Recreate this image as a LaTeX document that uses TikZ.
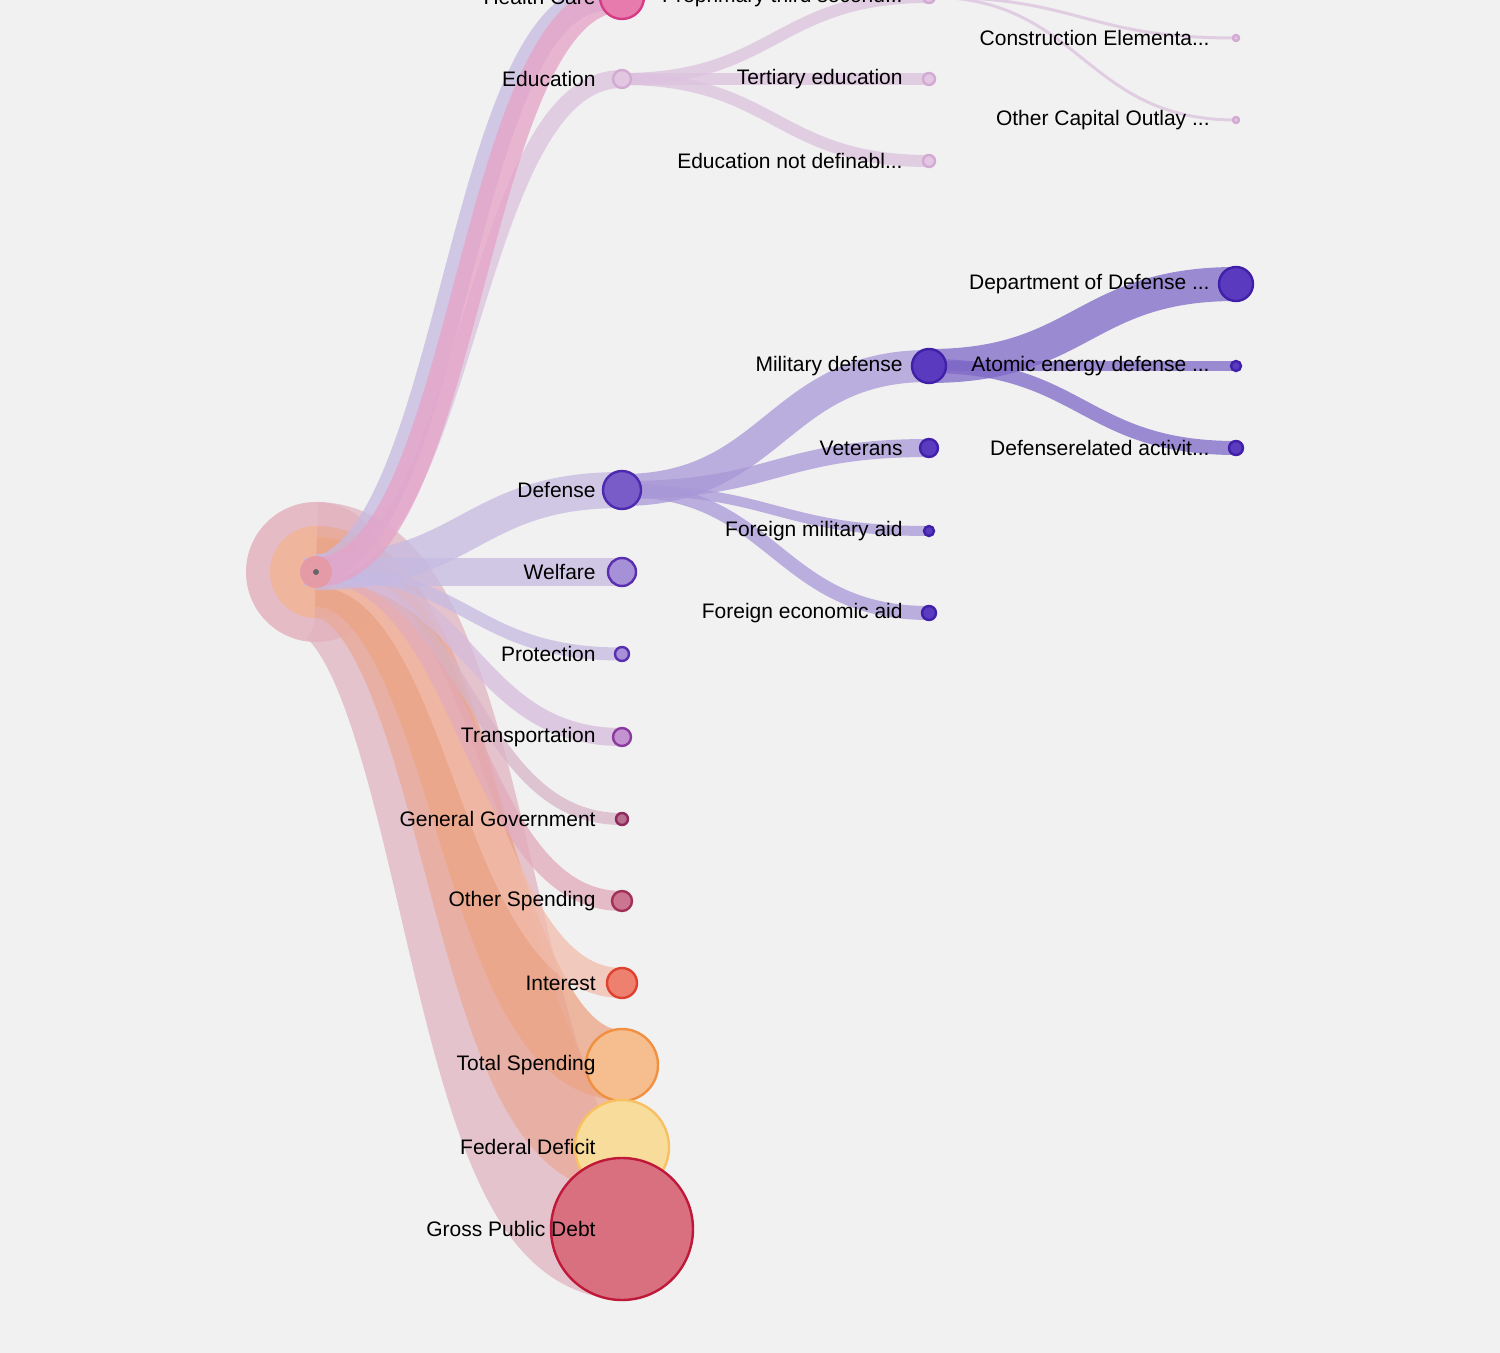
\documentclass[tikz,border=0pt]{standalone}
\usepackage{fontspec}
\setmainfont{Liberation Sans}
\usetikzlibrary{positioning}

\definecolor{bgc}{HTML}{F1F1F1}
\definecolor{hcL}{HTML}{E6A2C6}\definecolor{hcF}{HTML}{E87BAE}\definecolor{hcD}{HTML}{D63C86}
\definecolor{edL}{HTML}{DCC2DE}\definecolor{edF}{HTML}{E2C6E2}\definecolor{edD}{HTML}{D2AAD2}
\definecolor{dfL}{HTML}{C6BAE2}\definecolor{dfF}{HTML}{7A5CC8}\definecolor{dfD}{HTML}{4B2AAF}
\definecolor{wfF}{HTML}{A690D8}\definecolor{wfD}{HTML}{5A2EB0}
\definecolor{trL}{HTML}{D6BCDC}\definecolor{trF}{HTML}{C392D0}\definecolor{trD}{HTML}{8A3A9E}
\definecolor{ggL}{HTML}{D8B4C6}\definecolor{ggF}{HTML}{B8708F}\definecolor{ggD}{HTML}{8E2A5E}
\definecolor{osL}{HTML}{E2AABA}\definecolor{osF}{HTML}{CC7590}\definecolor{osD}{HTML}{A0305A}
\definecolor{inL}{HTML}{F2BCAC}\definecolor{inF}{HTML}{EE8070}\definecolor{inD}{HTML}{E04030}
\definecolor{tsL}{HTML}{ECA484}\definecolor{tsF}{HTML}{F6BE8E}\definecolor{tsD}{HTML}{F09040}
\definecolor{fdL}{HTML}{EAAA98}\definecolor{fdF}{HTML}{F8DC9C}\definecolor{fdD}{HTML}{F8C060}
\definecolor{gdL}{HTML}{E2B4C0}\definecolor{gdF}{HTML}{D87080}\definecolor{gdD}{HTML}{C01838}
\definecolor{mdL}{HTML}{A898D8}\definecolor{mdF}{HTML}{5A3ABE}\definecolor{mdD}{HTML}{4020A8}
\definecolor{ddL}{HTML}{7E68C8}

% a link between two nodes: from, to, width (px), colour
\newcommand{\lnk}[4]{\draw[link,line width=#3*0.5pt,draw=#4] (#1) .. controls +(153,0) and +(-153,0) .. (#2);}
% a node of the tree: name, x, y, radius, fill, draw, label
\newcommand{\leaf}[7]{%
  \coordinate (#1) at (#2,#3);
  \fill[#5,draw=#6,line width=1.2pt] (#1) circle[radius=#4];
  \node[lbl] at ([xshift=-13pt]#1) {#7};}

\begin{document}
\begin{tikzpicture}[x=0.5pt,y=-0.5pt,
    link/.style={opacity=0.75,line cap=butt},
    lbl/.style={anchor=east,inner sep=0pt,font=\fontsize{10.5}{12}\selectfont,text=black}]
  \fill[bgc] (0,0) rectangle (1500,1353);
  \useasboundingbox (0,0) rectangle (1500,1353);

  % root
  \fill[gdL!90] (316,572) circle[radius=70];
  \fill[tsL!80] (316,572) circle[radius=46];
  \coordinate (root) at (316,572);

  % level 1, 2 and 3 positions
  \foreach \n/\y in {hc/-3,ed/79,df/490,wf/572,pr/654,tr/737,gg/819,os/901,in/983,ts/1065,fd/1147,gd/1229}
    \coordinate (\n) at (622,\y);
  \foreach \n/\y in {pp/-3,te/79,en/161,md/366,ve/448,fm/531,fe/613}
    \coordinate (\n) at (929,\y);
  \foreach \n/\y in {ce/38,oc/120,dd/284,ae/366,dr/448}
    \coordinate (\n) at (1236,\y);

  % links
  \lnk{root}{gd}{140}{gdL}
  \lnk{root}{fd}{92}{fdL}
  \lnk{root}{ts}{70}{tsL}
  \lnk{root}{in}{30}{inL}
  \lnk{root}{os}{20}{osL}
  \lnk{root}{gg}{12}{ggL}
  \lnk{root}{tr}{18}{trL}
  \lnk{root}{pr}{13}{dfL}
  \lnk{root}{wf}{28}{dfL}
  \lnk{root}{df}{36}{dfL}
  \lnk{root}{ed}{18}{edL}
  \draw[link,line width=14pt,draw=dfL] ([xshift=-6pt]root) .. controls +(150,0) and +(-150,0) .. ([xshift=-8pt]hc);
  \lnk{root}{hc}{30}{hcL}
  \lnk{ed}{pp}{12}{edL}
  \lnk{ed}{te}{12}{edL}
  \lnk{ed}{en}{12}{edL}
  \lnk{pp}{ce}{3}{edL}
  \lnk{pp}{oc}{3}{edL}
  \lnk{df}{md}{32}{mdL}
  \lnk{df}{ve}{18}{mdL}
  \lnk{df}{fm}{10}{mdL}
  \lnk{df}{fe}{14}{mdL}
  \lnk{md}{dd}{34}{ddL}
  \lnk{md}{ae}{10}{ddL}
  \lnk{md}{dr}{14}{ddL}

  \fill[gdF!70] (316,572) circle[radius=16];
  \fill[black!60] (316,572) circle[radius=3];

  % nodes
  \leaf{hc}{622}{-3}{22}{hcF}{hcD}{Health Care}
  \leaf{ed}{622}{79}{9}{edF}{edD}{Education}
  \leaf{df}{622}{490}{19}{dfF}{dfD}{Defense}
  \leaf{wf}{622}{572}{14}{wfF}{wfD}{Welfare}
  \leaf{pr}{622}{654}{7}{wfF}{wfD}{Protection}
  \leaf{tr}{622}{737}{9}{trF}{trD}{Transportation}
  \leaf{gg}{622}{819}{6}{ggF}{ggD}{General Government}
  \leaf{os}{622}{901}{10}{osF}{osD}{Other Spending}
  \leaf{in}{622}{983}{15}{inF}{inD}{Interest}
  \leaf{ts}{622}{1065}{36}{tsF}{tsD}{Total Spending}
  \leaf{fd}{622}{1147}{47}{fdF}{fdD}{Federal Deficit}
  \leaf{gd}{622}{1229}{71}{gdF}{gdD}{Gross Public Debt}

  \leaf{pp}{929}{-3}{6}{edF}{edD}{Preprimary third second...}
  \leaf{te}{929}{79}{6}{edF}{edD}{Tertiary education}
  \leaf{en}{929}{161}{6}{edF}{edD}{Education not definabl...}
  \leaf{md}{929}{366}{17}{mdF}{mdD}{Military defense}
  \leaf{ve}{929}{448}{9}{mdF}{mdD}{Veterans}
  \leaf{fm}{929}{531}{5}{mdF}{mdD}{Foreign military aid}
  \leaf{fe}{929}{613}{7}{mdF}{mdD}{Foreign economic aid}

  \leaf{ce}{1236}{38}{3}{edF}{edD}{Construction Elementa...}
  \leaf{oc}{1236}{120}{3}{edF}{edD}{Other Capital Outlay ...}
  \leaf{dd}{1236}{284}{17}{mdF}{mdD}{Department of Defense ...}
  \leaf{ae}{1236}{366}{5}{mdF}{mdD}{Atomic energy defense ...}
  \leaf{dr}{1236}{448}{7}{mdF}{mdD}{Defenserelated activit...}
\end{tikzpicture}
\end{document}
